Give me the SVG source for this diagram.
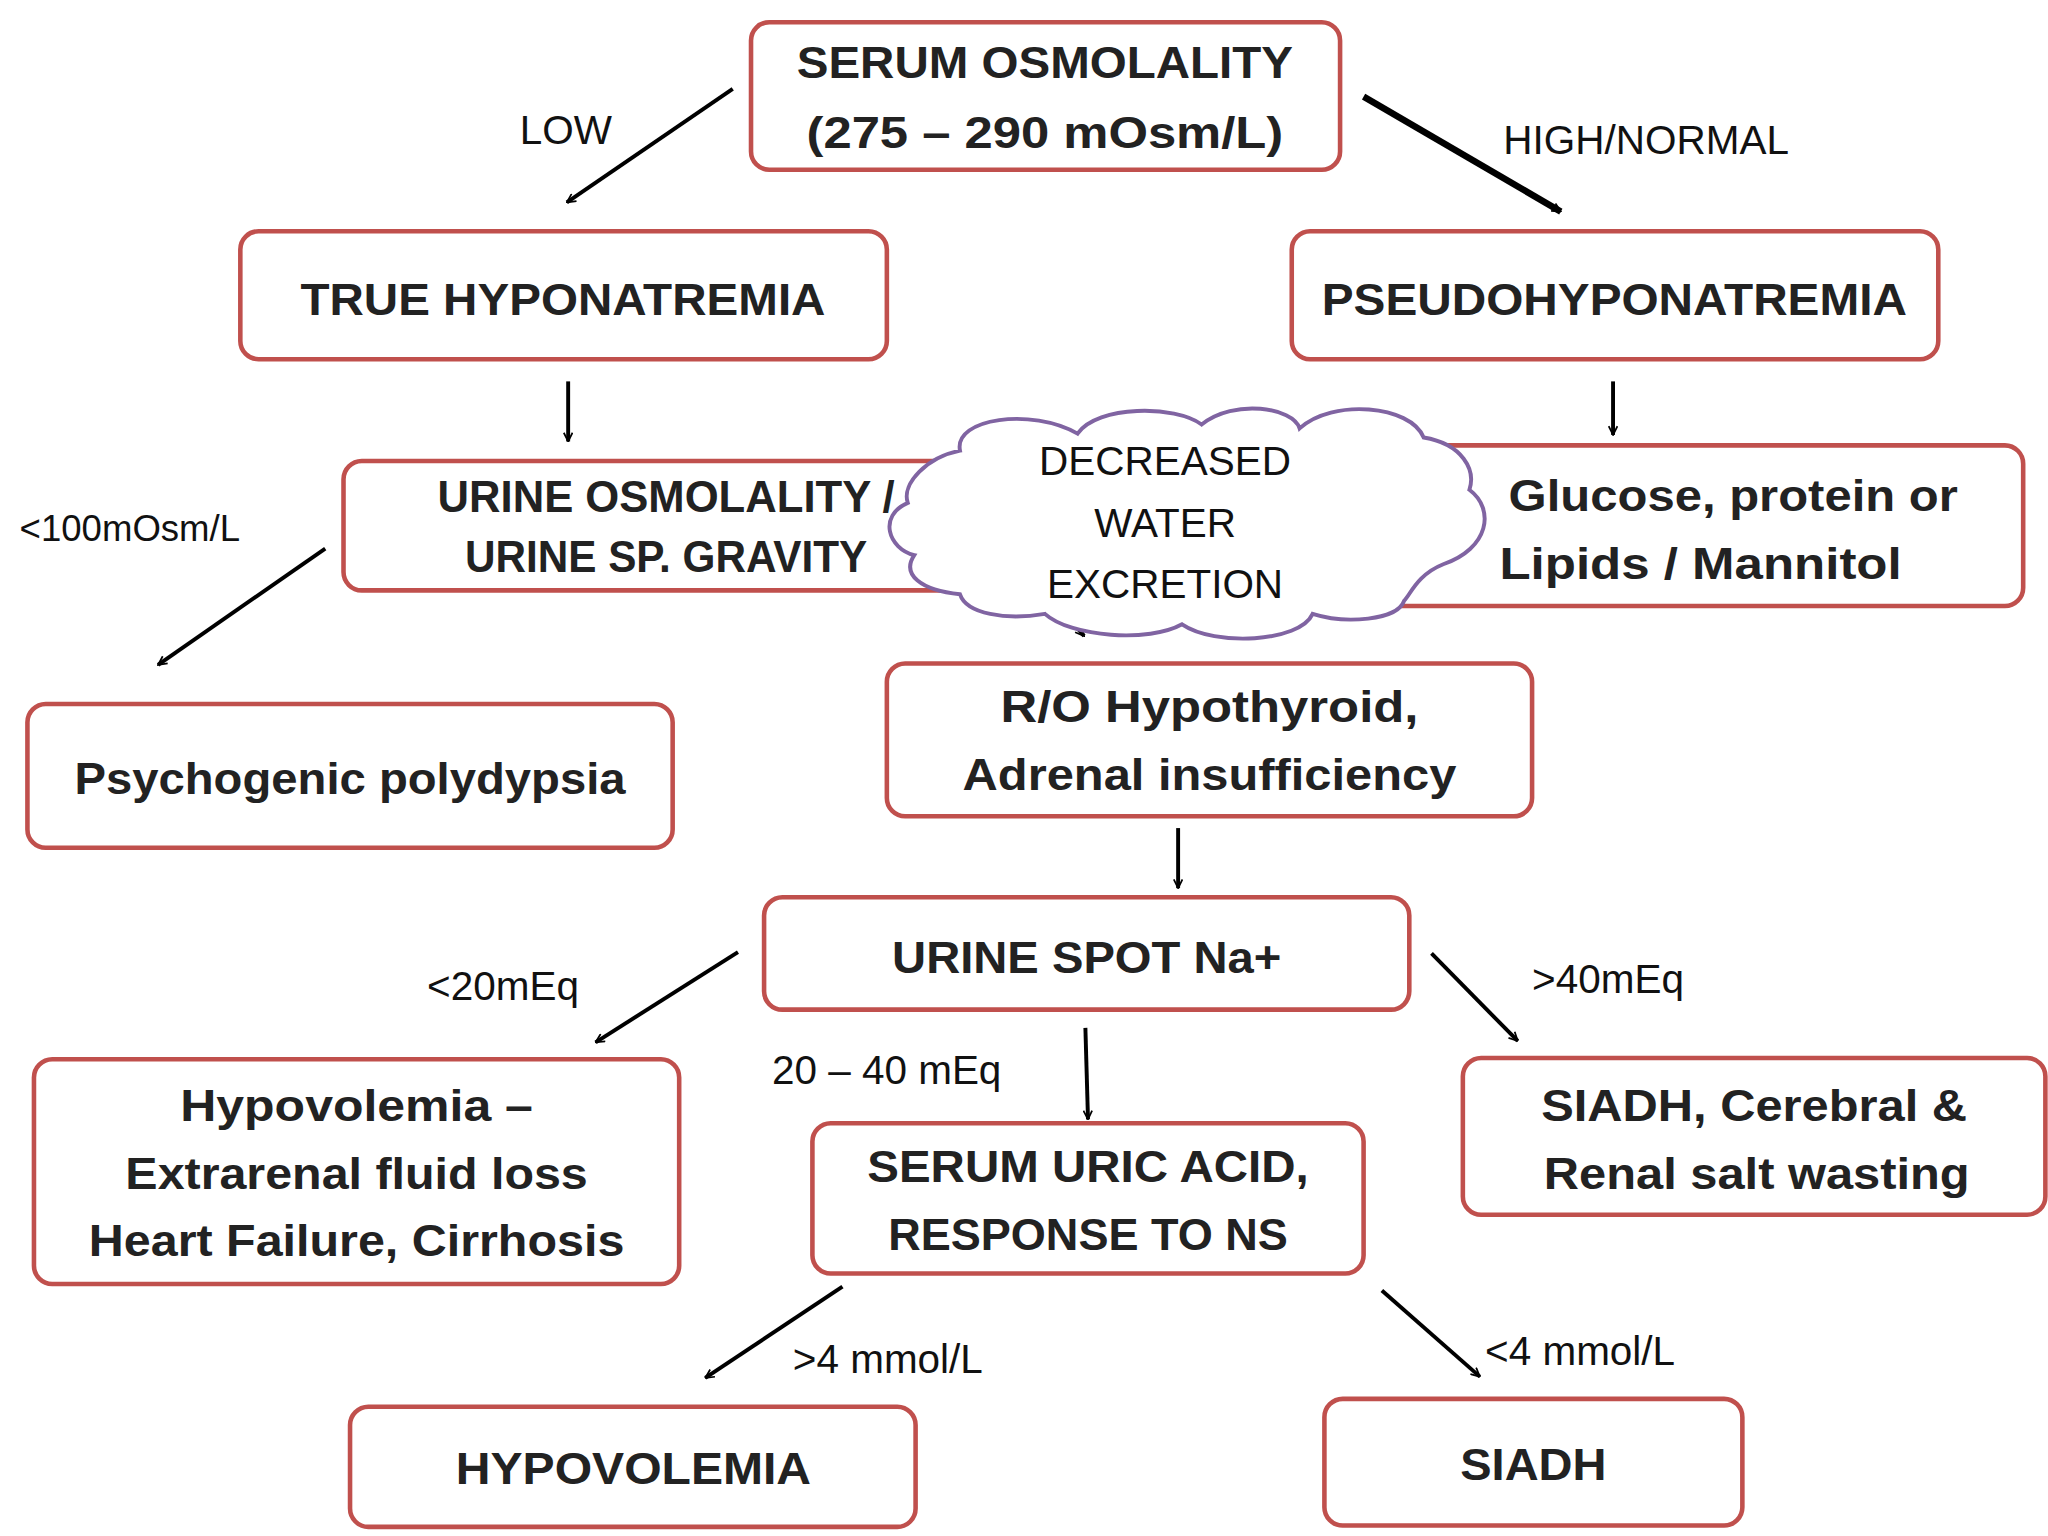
<svg xmlns="http://www.w3.org/2000/svg" width="2048" height="1536" viewBox="0 0 2048 1536">
<style>
.b{fill:#fff;stroke:#c0504d;stroke-width:3.5}
.t{font-family:"Liberation Sans",Arial,sans-serif;font-weight:bold;font-size:34px;fill:#222;text-anchor:middle}
.l{font-family:"Liberation Sans",Arial,sans-serif;font-size:31px;fill:#111}
.c{fill:none;stroke:#000;stroke-width:3}
</style>
<defs>
<marker id="a" viewBox="0 0 12 12" refX="11" refY="6" markerWidth="8" markerHeight="8" orient="auto" markerUnits="userSpaceOnUse"><path d="M1,1 L11,6 L1,11" fill="none" stroke="#000" stroke-width="2"/></marker>
</defs>
<rect width="2048" height="1536" fill="#fff"/>
<g transform="scale(1.30612)">
<g id="connectors">
<line class="c" x1="561" y1="68" x2="434" y2="155" marker-end="url(#a)" style="stroke-width:3"/>
<line class="c" x1="1044" y1="74" x2="1195" y2="162" marker-end="url(#a)" style="stroke-width:5"/>
<line class="c" x1="435" y1="292" x2="435" y2="338" marker-end="url(#a)"/>
<line class="c" x1="1235" y1="292" x2="1235" y2="333" marker-end="url(#a)"/>
<line class="c" x1="249" y1="420" x2="121" y2="509" marker-end="url(#a)"/>
<line class="c" x1="790" y1="440" x2="830" y2="487" marker-end="url(#a)"/>
<line class="c" x1="902" y1="634" x2="902" y2="680" marker-end="url(#a)"/>
<line class="c" x1="565" y1="729" x2="456" y2="798" marker-end="url(#a)"/>
<line class="c" x1="1096" y1="730" x2="1162" y2="797" marker-end="url(#a)"/>
<line class="c" x1="831" y1="787" x2="833" y2="857" marker-end="url(#a)"/>
<line class="c" x1="645" y1="985" x2="540" y2="1055" marker-end="url(#a)"/>
<line class="c" x1="1058" y1="988" x2="1133" y2="1054" marker-end="url(#a)"/>
<text class="l" x="398" y="110">LOW</text>
<text class="l" x="1151" y="118">HIGH/NORMAL</text>
<text class="l" x="15" y="414" style="font-size:28px">&lt;100mOsm/L</text>
<text class="l" x="327" y="766">&lt;20mEq</text>
<text class="l" x="1173" y="760">&gt;40mEq</text>
<text class="l" x="591" y="830">20 – 40 mEq</text>
<text class="l" x="607" y="1051">&gt;4 mmol/L</text>
<text class="l" x="1137" y="1045">&lt;4 mmol/L</text>
</g>
<g id="serum"><rect class="b" x="575" y="17" width="451" height="113" rx="14"/>
<text class="t" x="800" y="60" textLength="380" lengthAdjust="spacingAndGlyphs">SERUM OSMOLALITY</text>
<text class="t" x="800" y="113" textLength="365" lengthAdjust="spacingAndGlyphs">(275 – 290 mOsm/L)</text></g>
<g id="true"><rect class="b" x="184" y="177" width="495" height="98" rx="14"/>
<text class="t" x="431" y="241" textLength="402" lengthAdjust="spacingAndGlyphs">TRUE HYPONATREMIA</text></g>
<g id="pseudo"><rect class="b" x="989" y="177" width="495" height="98" rx="14"/>
<text class="t" x="1236" y="241" textLength="448" lengthAdjust="spacingAndGlyphs">PSEUDOHYPONATREMIA</text></g>
<g id="urineosm"><rect class="b" x="263" y="353" width="480" height="99" rx="14"/>
<text class="t" x="510" y="392" textLength="350" lengthAdjust="spacingAndGlyphs">URINE OSMOLALITY /</text>
<text class="t" x="510" y="438" textLength="308" lengthAdjust="spacingAndGlyphs">URINE SP. GRAVITY</text></g>
<g id="glucose"><rect class="b" x="1055" y="341" width="494" height="123" rx="14"/>
<text class="t" x="1327" y="391" textLength="344" lengthAdjust="spacingAndGlyphs">Glucose, protein or</text>
<text class="t" x="1302" y="443" textLength="308" lengthAdjust="spacingAndGlyphs">Lipids / Mannitol</text></g>
<g id="cloud">
<path d="M735,345 C730,320 790,312 825,332 C840,310 900,310 920,325 C945,305 990,312 995,328 C1020,305 1080,310 1090,335 C1120,340 1130,360 1125,375 C1145,390 1140,420 1105,432 C1085,440 1080,455 1075,460 C1070,475 1030,478 1005,470 C995,492 930,495 905,478 C880,492 820,488 800,470 C770,475 740,470 735,455 C705,452 690,440 700,425 C680,420 672,395 695,385 C690,370 710,350 735,345 Z" fill="#fff" stroke="#8064a2" stroke-width="3"/>
<text class="l" x="892" y="364" text-anchor="middle">DECREASED</text>
<text class="l" x="892" y="411" text-anchor="middle">WATER</text>
<text class="l" x="892" y="458" text-anchor="middle">EXCRETION</text></g>
<g id="psycho"><rect class="b" x="21" y="539" width="494" height="110" rx="14"/>
<text class="t" x="268" y="608" textLength="422" lengthAdjust="spacingAndGlyphs">Psychogenic polydypsia</text></g>
<g id="ro"><rect class="b" x="679" y="508" width="494" height="117" rx="14"/>
<text class="t" x="926" y="553" textLength="320" lengthAdjust="spacingAndGlyphs">R/O Hypothyroid,</text>
<text class="t" x="926" y="605" textLength="378" lengthAdjust="spacingAndGlyphs">Adrenal insufficiency</text></g>
<g id="spot"><rect class="b" x="585" y="687" width="494" height="86" rx="14"/>
<text class="t" x="832" y="745" textLength="298" lengthAdjust="spacingAndGlyphs">URINE SPOT Na+</text></g>
<g id="hypovol1"><rect class="b" x="26" y="811" width="494" height="172" rx="14"/>
<text class="t" x="273" y="858" textLength="270" lengthAdjust="spacingAndGlyphs">Hypovolemia –</text>
<text class="t" x="273" y="910" textLength="354" lengthAdjust="spacingAndGlyphs">Extrarenal fluid loss</text>
<text class="t" x="273" y="962" textLength="410" lengthAdjust="spacingAndGlyphs">Heart Failure, Cirrhosis</text></g>
<g id="uric"><rect class="b" x="622" y="860" width="422" height="115" rx="14"/>
<text class="t" x="833" y="905" textLength="338" lengthAdjust="spacingAndGlyphs">SERUM URIC ACID,</text>
<text class="t" x="833" y="957" textLength="306" lengthAdjust="spacingAndGlyphs">RESPONSE TO NS</text></g>
<g id="siadhc"><rect class="b" x="1120" y="810" width="446" height="120" rx="14"/>
<text class="t" x="1343" y="858" textLength="326" lengthAdjust="spacingAndGlyphs">SIADH, Cerebral &amp;</text>
<text class="t" x="1345" y="910" textLength="326" lengthAdjust="spacingAndGlyphs">Renal salt wasting</text></g>
<g id="hypovol2"><rect class="b" x="268" y="1077" width="433" height="92" rx="14"/>
<text class="t" x="485" y="1136" textLength="272" lengthAdjust="spacingAndGlyphs">HYPOVOLEMIA</text></g>
<g id="siadh"><rect class="b" x="1014" y="1071" width="320" height="97" rx="14"/>
<text class="t" x="1174" y="1133" textLength="112" lengthAdjust="spacingAndGlyphs">SIADH</text></g>
</g>
</svg>
